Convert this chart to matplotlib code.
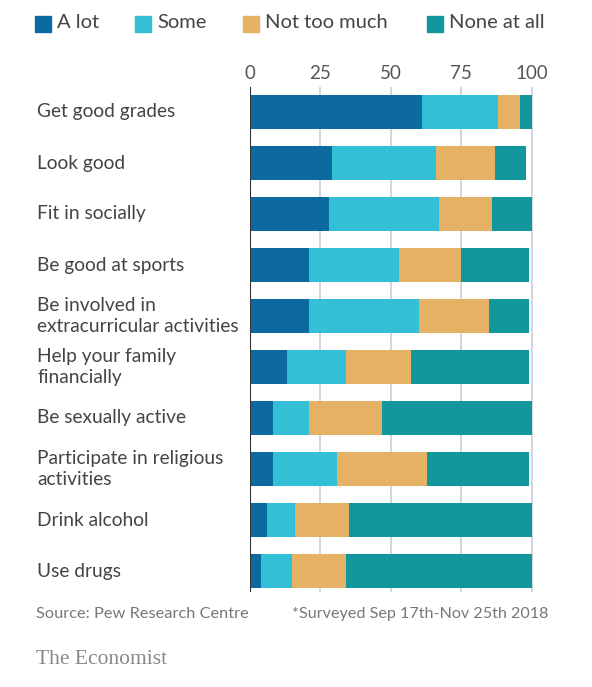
import numpy as np
import matplotlib
matplotlib.use('Agg')
import matplotlib.pyplot as plt
from matplotlib.patches import Rectangle

plt.rcParams['font.family'] = ['Lato', 'DejaVu Sans']

activities = ['Get good grades', 'Look good', 'Fit in socially', 'Be good at sports',
              'Be involved in\nextracurricular activities', 'Help your family\nfinancially',
              'Be sexually active', 'Participate in religious\nactivities',
              'Drink alcohol', 'Use drugs']
a_lot = [61, 29, 28, 21, 21, 13, 8, 8, 6, 4]
some = [27, 37, 39, 32, 39, 21, 13, 23, 10, 11]
not_too_much = [8, 21, 19, 22, 25, 23, 26, 32, 19, 19]
none_at_all = [4, 11, 14, 24, 14, 42, 53, 36, 65, 66]

series_names = ['A lot', 'Some', 'Not too much', 'None at all']
colors = ['#0d6aa1', '#33bfd5', '#e4b165', '#12979d']
ticks = [0, 25, 50, 75, 100]


def main():
    fig = plt.figure(figsize=(5.92, 6.87), dpi=100)
    ax = fig.add_axes([250 / 592, 1 - 596.5 / 687, 283 / 592, 510 / 687])

    y = np.arange(len(activities))
    left = np.zeros(len(activities))
    for vals, col in zip([a_lot, some, not_too_much, none_at_all], colors):
        ax.barh(y, vals, left=left, height=0.67, color=col, zorder=2)
        left = left + np.array(vals)

    ax.set_xlim(0, 100.5)
    ax.set_ylim(len(activities) - 0.5, -0.5)
    ax.set_xticks(ticks)
    ax.xaxis.tick_top()
    ax.tick_params(axis='x', length=0, pad=3, labelsize=13.5, labelcolor='#555555')
    for t in ticks[1:]:
        ax.axvline(t, ymin=0.01, color='#cdd3dc', lw=1.3, zorder=1)
    ax.axvline(0, ymin=0.01, color='#333333', lw=1.5, zorder=3)

    ax.set_yticks(y)
    ax.set_yticklabels([])
    ax.tick_params(axis='y', length=0)
    for spine in ax.spines.values():
        spine.set_visible(False)

    # left-aligned category labels
    for yi, lab in zip(y, activities):
        ax.text(-214 / 2.83, yi, lab, ha='left', va='center', fontsize=13.8,
                color='#444444', linespacing=1.3)

    # legend along the top
    legend_x = [35, 135, 243, 427]
    for lx, name, col in zip(legend_x, series_names, colors):
        fig.patches.append(Rectangle((lx / 592, 1 - 32 / 687), 16 / 592, 16 / 687,
                                     transform=fig.transFigure, color=col))
        fig.text((lx + 22) / 592, 1 - 23 / 687, name, ha='left', va='center',
                 fontsize=14.5, color='#444444')

    fig.text(36 / 592, 1 - 614 / 687, 'Source: Pew Research Centre', ha='left',
             va='center', fontsize=11.8, color='#777777')
    fig.text(292 / 592, 1 - 614 / 687, '*Surveyed Sep 17th-Nov 25th 2018', ha='left',
             va='center', fontsize=11.6, color='#777777')
    fig.text(36 / 592, 1 - 660 / 687, 'The Economist', ha='left', va='center',
             fontsize=15.5, color='#888888', family='Liberation Serif')

    plt.savefig('out.png', dpi=100)


if __name__ == '__main__':
    main()
